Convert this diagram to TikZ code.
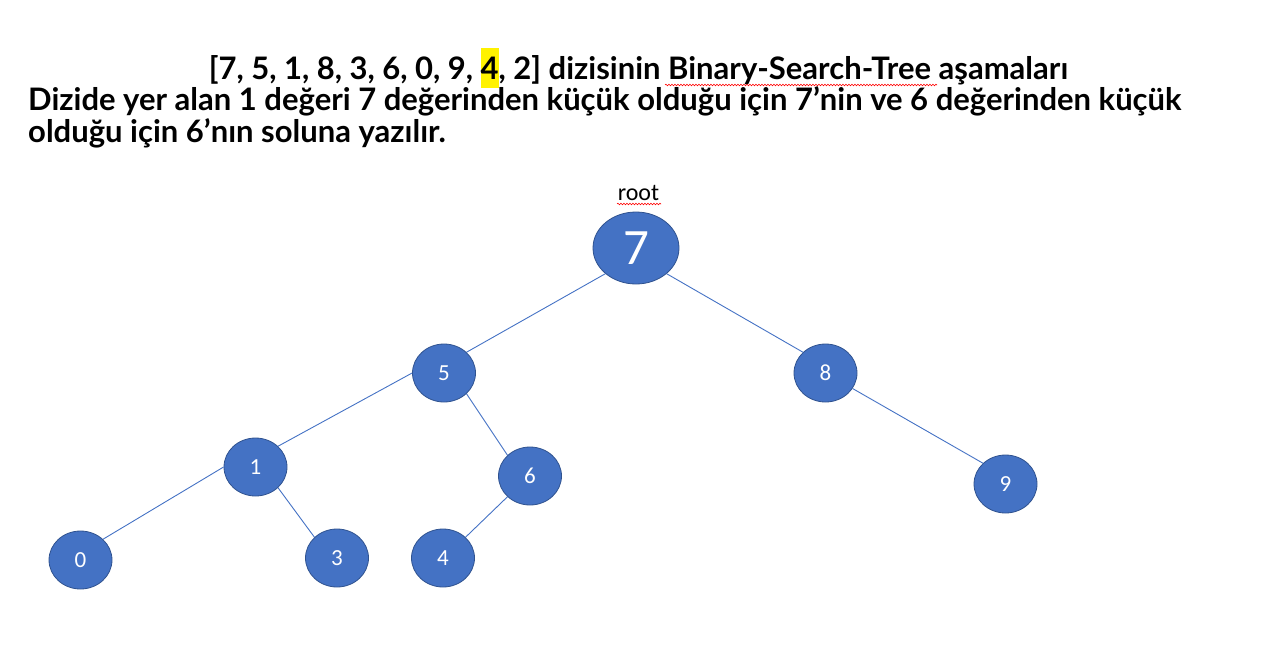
\documentclass[tikz,border=0pt]{standalone}
\usepackage{fontspec}
\setmainfont{Lato}
\newfontfamily\nodefont{Carlito}
\usetikzlibrary{shapes.geometric,decorations.pathmorphing}
\definecolor{nodefill}{HTML}{4472C4}
\definecolor{nodeline}{HTML}{2F528F}
\definecolor{edgecol}{HTML}{4472C4}
\begin{document}
\begin{tikzpicture}[x=1pt,y=-1pt,
  bnode/.style={ellipse,fill=nodefill,draw=nodeline,line width=0.8pt,
    minimum width=63pt,minimum height=58pt,inner sep=0pt,text=white,
    font=\nodefont\fontsize{23}{23}\selectfont},
  bignode/.style={bnode,minimum width=86pt,minimum height=72pt,
    font=\nodefont\fontsize{51}{51}\selectfont},
  edge/.style={draw=edgecol,line width=0.9pt},
  title/.style={inner sep=0pt,font=\bfseries\fontsize{31}{31}\selectfont},
  spell/.style={draw=red,line width=0.6pt,decorate,
    decoration={snake,segment length=3pt,amplitude=0.8pt}}]
\useasboundingbox (0,0) rectangle (1265,648);
% title
\node[title,anchor=base] (t1) at (638.5,79)
  {[7, 5, 1, 8, 3, 6, 0, 9, {\setlength{\fboxsep}{0pt}\colorbox{yellow}{\rule[-0.3em]{0pt}{1.3em}4}}, 2] dizisinin Binary-Search-Tree aşamaları};
\node[title,anchor=base west] (t2) at (28,110)
  {Dizide yer alan 1 değeri 7 değerinden küçük olduğu için 7’nin ve 6 değerinden küçük};
\node[title,anchor=base west] (t3) at (28,142)
  {olduğu için 6’nın soluna yazılır.};
\draw[spell] (665,85) -- (937,85);
% root label
\node[inner sep=0pt,anchor=base,font=\nodefont\fontsize{24}{24}\selectfont] (rootlbl) at (638.5,200) {root};
\draw[spell] (617,204) -- (661,204);
% nodes
\node[bignode] (n7) at (636,248) {7};
\node[bnode] (n5) at (444,373) {5};
\node[bnode] (n8) at (825.5,373) {8};
\node[bnode] (n1) at (255.5,467) {1};
\node[bnode] (n6) at (530,476) {6};
\node[bnode] (n9) at (1005.5,484) {9};
\node[bnode] (n0) at (80.5,560) {0};
\node[bnode] (n3) at (337,558) {3};
\node[bnode] (n4) at (443,558) {4};
% edges
\draw[edge] (n7.south west) -- (n5.north east);
\draw[edge] (n7.south east) -- (n8.north west);
\draw[edge] (n5.west) -- (n1.north east);
\draw[edge] (n5.south east) -- (n6.north west);
\draw[edge] (n8) -- (n9.north west);
\draw[edge] (n1.west) -- (n0.north east);
\draw[edge] (n1.south east) -- (n3.north west);
\draw[edge] (n6.south west) -- (n4.north east);
\end{tikzpicture}
\end{document}
